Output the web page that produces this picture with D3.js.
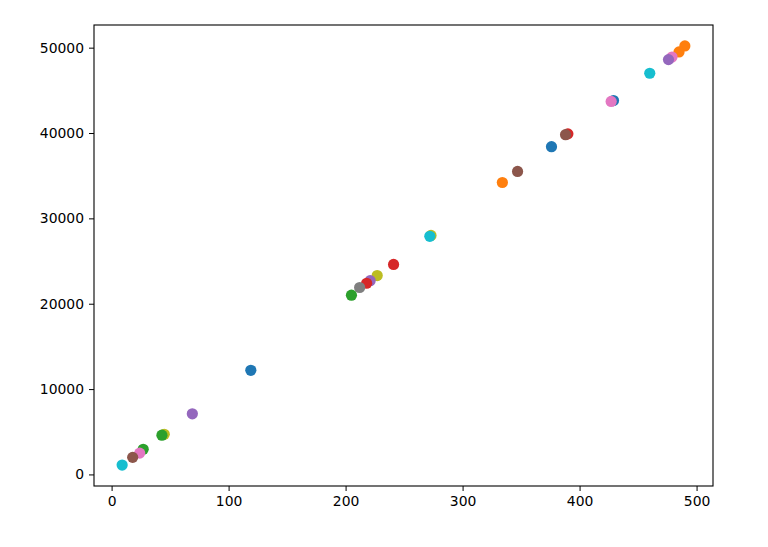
<!DOCTYPE html>
<html>
<head>
<meta charset="utf-8">
<script src="https://cdn.jsdelivr.net/npm/d3@7"></script>
<style>
  body { margin: 0; background: #fff; }
  text { font-family: "DejaVu Sans", sans-serif; }
</style>
</head>
<body>
<div id="chart"></div>
<script>
// values
var xs = [9, 18, 24, 27, 43, 45, 69, 119, 205, 212, 218, 221, 227, 241,
          273, 272, 334, 347, 376, 388, 390, 429, 427, 460, 476, 479, 485, 490];
var ys = [1100, 2000, 2500, 2950, 4600, 4700, 7100, 12200, 21000, 21900, 22400, 22700, 23300, 24600,
          28000, 27900, 34200, 35500, 38400, 39800, 39900, 43800, 43700, 47000, 48600, 48900, 49500, 50200];
// colour-cycle slot of each point (tab10)
var groups = [9, 5, 6, 2, 2, 8, 4, 0, 2, 7, 3, 4, 8, 3,
              8, 9, 1, 5, 0, 5, 3, 0, 6, 9, 4, 6, 1, 1];
var xTicks = [0, 100, 200, 300, 400, 500];
var yTicks = [0, 10000, 20000, 30000, 40000, 50000];

var margin = {top: 25, right: 55, bottom: 61, left: 94},
    width = 768 - margin.left - margin.right,
    height = 547 - margin.top - margin.bottom;

var svg = d3.select("#chart").append("svg")
    .attr("width", 768)
    .attr("height", 547)
    .append("g")
    .attr("transform", "translate(" + margin.left + "," + margin.top + ")");

// matplotlib style 5% margins
function padded(ext) {
    var p = (ext[1] - ext[0]) * 0.05;
    return [ext[0] - p, ext[1] + p];
}

var x = d3.scaleLinear().domain(padded(d3.extent(xs))).range([0, width]);
var y = d3.scaleLinear().domain(padded(d3.extent(ys))).range([height, 0]);

var color = d3.scaleOrdinal().domain(d3.range(10)).range(d3.schemeCategory10);

// points with smaller x sit on top, so draw from the right
var data = xs.map(function(d, i) { return {x: d, y: ys[i], g: groups[i]}; })
    .sort(function(a, b) { return b.x - a.x; });

svg.selectAll("circle")
    .data(data)
    .enter()
    .append("circle")
    .attr("cx", function(d) { return x(d.x); })
    .attr("cy", function(d) { return y(d.y); })
    .attr("r", 5.6)
    .attr("fill", function(d) { return color(d.g); });

// axes
var xAxis = svg.append("g")
    .attr("transform", "translate(0," + height + ")")
    .call(d3.axisBottom(x).tickValues(xTicks).tickSize(5).tickPadding(5).tickFormat(d3.format("d")));
var yAxis = svg.append("g")
    .call(d3.axisLeft(y).tickValues(yTicks).tickSize(5).tickPadding(5).tickFormat(d3.format("d")));

[xAxis, yAxis].forEach(function(a) {
    a.select(".domain").remove();
    a.selectAll("line").attr("stroke", "#000").attr("stroke-width", 1);
    a.selectAll("text").style("font-size", "13.9px").attr("fill", "#000");
});

// frame
svg.append("rect")
    .attr("width", width)
    .attr("height", height)
    .attr("fill", "none")
    .attr("stroke", "#000")
    .attr("stroke-width", 1.1);
</script>
</body>
</html>
